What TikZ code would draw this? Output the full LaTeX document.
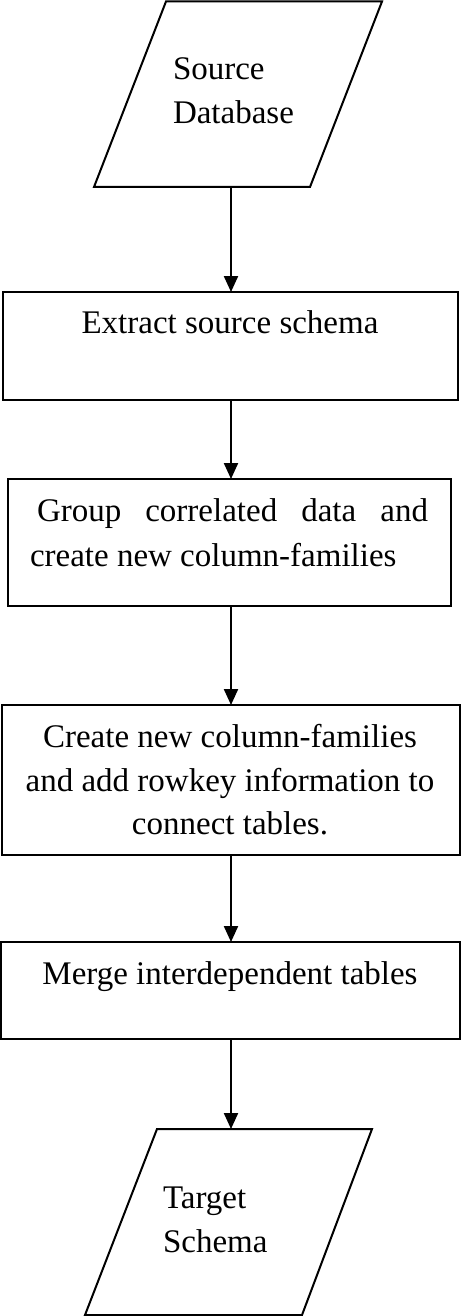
\documentclass[tikz,border=0pt]{standalone}
\usepackage{fontspec}
\setmainfont{Liberation Serif}
\usetikzlibrary{arrows.meta}
\begin{document}
\begin{tikzpicture}[x=1pt,y=-1pt,
  stepbox/.style={draw,line width=2pt,inner sep=0pt,outer sep=0pt},
  io/.style={draw,line width=2pt,line join=miter},
  txt/.style={inner sep=0pt,outer sep=0pt,font=\fontsize{33}{44}\selectfont},
  arr/.style={line width=2.2pt,-{Triangle[width=14pt,length=16pt]}}]
\useasboundingbox (0,0) rectangle (462,1316);
\coordinate (axis) at (231,0);
% source parallelogram
\draw[io] (166,1.5) -- (382,1.5) -- (310,187) -- (94,187) -- cycle;
\coordinate (src) at (231,187);
\node[txt,anchor=base west] (s1) at (173,80) {Source};
\node[txt,anchor=base west] (s2) at (173,124) {Database};
% box 1
\node[stepbox,minimum width=455pt,minimum height=108pt] (b1) at (230.5,346) {};
\node[txt,anchor=base] (t1) at (230,333) {Extract source schema};
% box 2
\node[stepbox,minimum width=443pt,minimum height=127pt] (b2) at (229.5,542.5) {};
\node[txt,anchor=base west] (t2a) at (37,521) {\makebox[391pt][s]{Group correlated data and}};
\node[txt,anchor=base west] (t2b) at (30,566) {create new column-families};
% box 3
\node[stepbox,minimum width=458pt,minimum height=150pt] (b3) at (231,780) {};
\node[txt,anchor=base] (t3a) at (230,747) {Create new column-families};
\node[txt,anchor=base] (t3b) at (230,791) {and add rowkey information to};
\node[txt,anchor=base] (t3c) at (230,834) {connect tables.};
% box 4
\node[stepbox,minimum width=459pt,minimum height=97pt] (b4) at (230.5,990.5) {};
\node[txt,anchor=base] (t4) at (230,984) {Merge interdependent tables};
% target parallelogram
\draw[io] (157,1129) -- (372,1129) -- (302,1315) -- (85,1315) -- cycle;
\coordinate (tgt) at (231,1129);
\node[txt,anchor=base west] (g1) at (163,1208) {Target};
\node[txt,anchor=base west] (g2) at (163,1252) {Schema};
% connectors
\draw[arr] (src) -- (b1.north -| axis);
\draw[arr] (b1.south -| axis) -- (b2.north -| axis);
\draw[arr] (b2.south -| axis) -- (b3.north -| axis);
\draw[arr] (b3.south -| axis) -- (b4.north -| axis);
\draw[arr] (b4.south -| axis) -- (tgt);
\end{tikzpicture}
\end{document}
